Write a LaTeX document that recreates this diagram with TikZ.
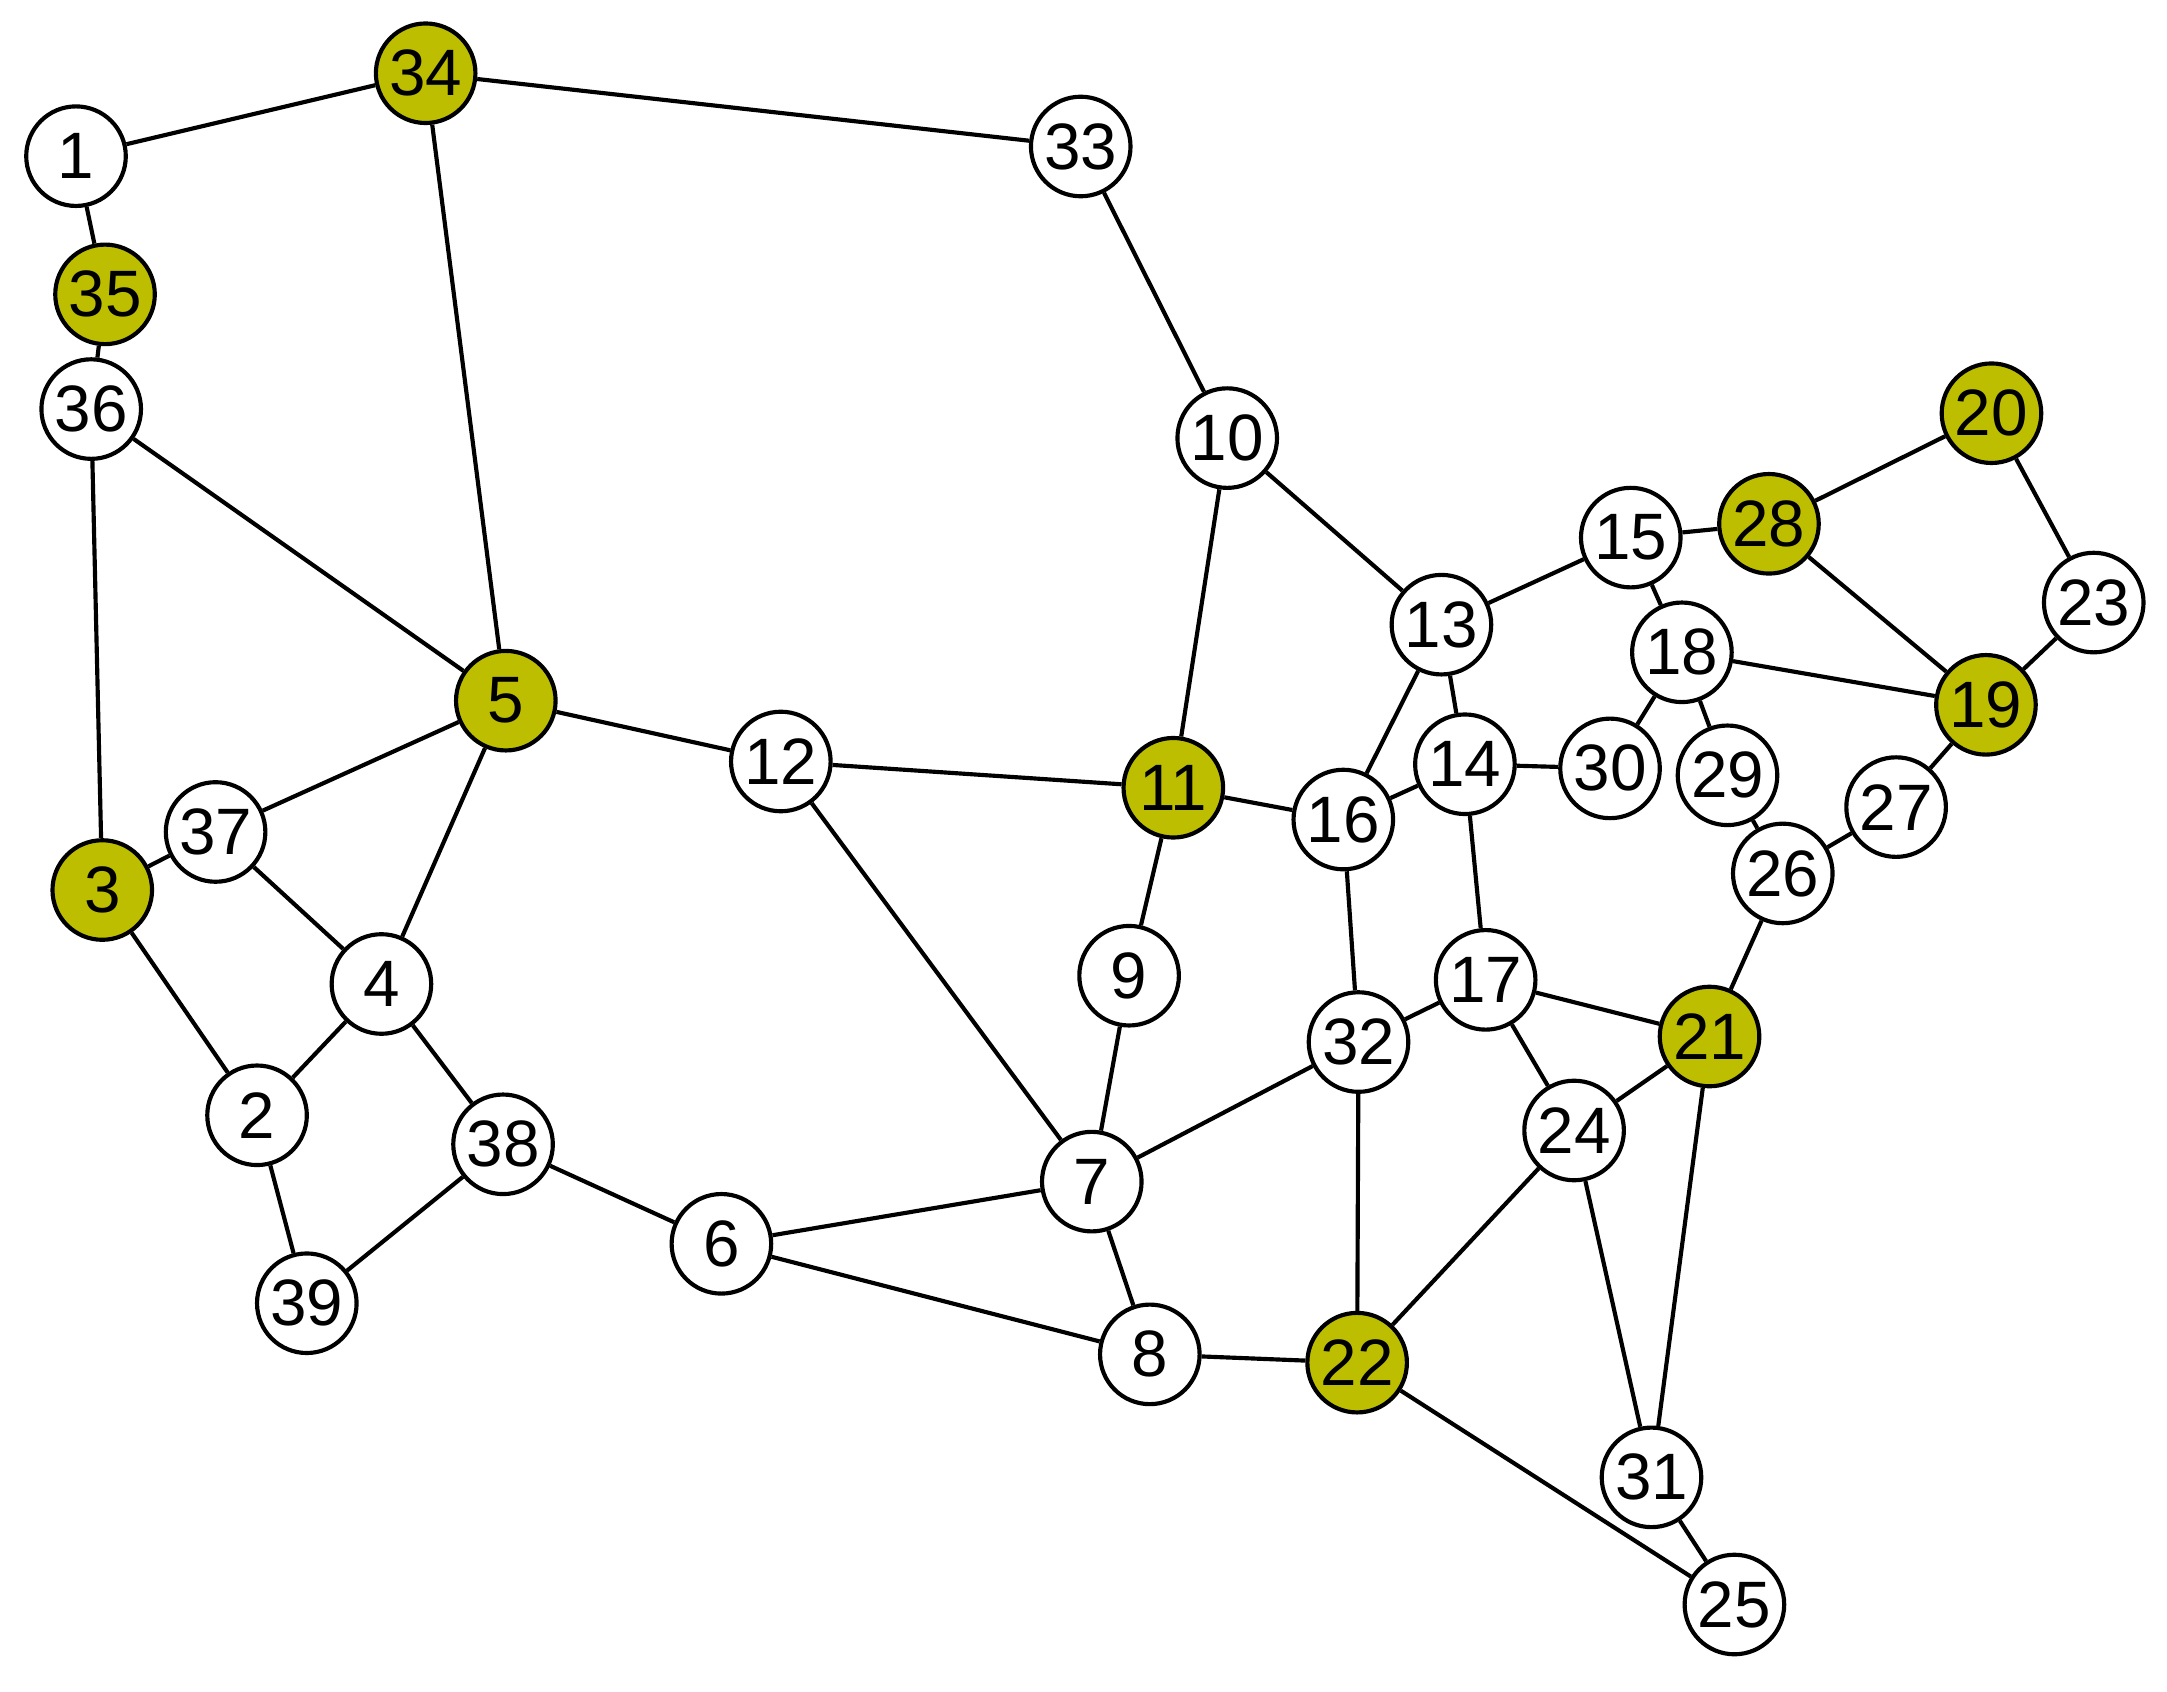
\documentclass[tikz,border=0pt]{standalone}
\usepackage{fontspec}
\setmainfont{Liberation Sans}
\definecolor{olive}{RGB}{190,190,0}
\begin{document}
\begin{tikzpicture}[x=0.01cm,y=-0.01cm,
  v/.style={circle,draw,line width=0.03cm,minimum size=0.72cm,inner sep=0pt,fill=white,font=\fontsize{13.5}{13.5}\selectfont},
  h/.style={v,fill=olive},
  e/.style={line width=0.03cm}]
\useasboundingbox (0,0) rectangle (1568,1224);
\foreach \n/\x/\y/\s in {1/55/113/v,34/308/53/h,33/782/106/v,35/76/213/h,36/66/296/v,10/888/317/v,20/1441/299/h,28/1280/379/h,15/1180/389/v,23/1515/436/v,13/1043/452/v,18/1217/472/v,19/1437/510/h,5/366/507/h,12/565/551/v,11/849/570/h,14/1060/553/v,30/1165/556/v,29/1250/561/v,16/972/593/v,27/1372/584/v,37/156/602/v,3/74/644/h,26/1290/632/v,4/276/712/v,9/817/706/v,17/1075/709/v,32/983/754/v,21/1237/750/h,2/186/807/v,38/364/828/v,24/1139/818/v,7/790/855/v,6/522/900/v,39/222/943/v,8/832/980/v,22/982/986/h,31/1195/1069/v,25/1255/1161/v}
  \node[\s] (n\n) at (\x,\y) {\n};
\begin{scope}[on background layer/.style={}]
\end{scope}
\foreach \a/\b in {1/34,34/33,1/35,35/36,36/3,36/5,34/5,33/10,10/11,10/13,5/12,5/37,5/4,37/3,37/4,3/2,2/4,2/39,4/38,38/39,38/6,6/7,6/8,12/11,12/7,11/16,11/9,9/7,7/8,7/32,8/22,16/13,16/14,16/32,13/15,13/14,14/30,14/17,15/28,15/18,18/30,18/29,18/19,28/20,28/19,20/23,23/19,19/27,27/26,29/26,26/21,17/32,17/21,17/24,21/24,21/31,24/22,24/31,32/22,22/25,31/25}
  \draw[e] (n\a) -- (n\b);
\end{tikzpicture}
\end{document}
